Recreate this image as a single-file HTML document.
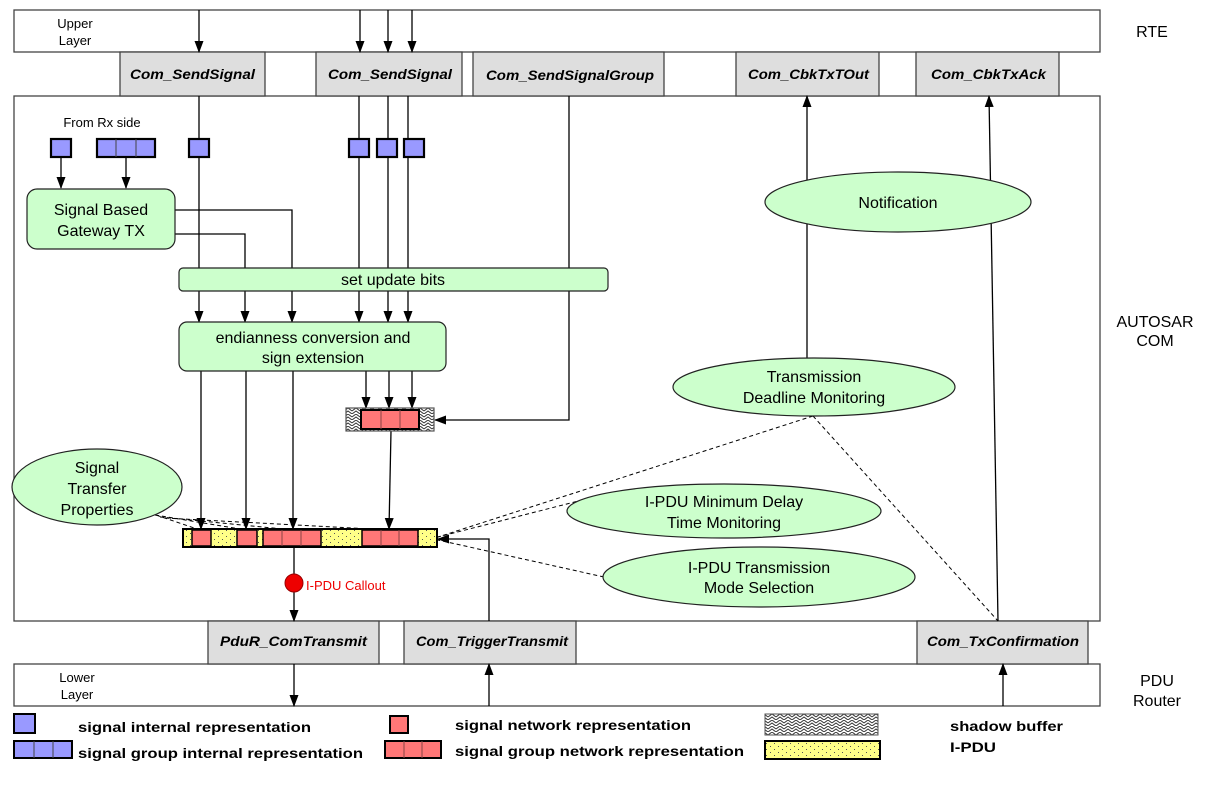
<!DOCTYPE html>
<html><head><meta charset="utf-8"><style>
html,body{margin:0;padding:0;background:#fff}
svg{display:block}
text{font-family:"Liberation Sans",Arial,sans-serif}
.api{font-weight:bold;font-style:italic;font-size:14px}
.el{font-size:16px}
.lg{font-weight:bold;font-size:14px}
</style></head><body>
<svg width="1215" height="787" viewBox="0 0 1215 787" xmlns="http://www.w3.org/2000/svg">
<defs>
<marker id="a" markerWidth="12" markerHeight="12" refX="11" refY="6" orient="auto" markerUnits="userSpaceOnUse"><path d="M0,1.5 L12,6 L0,10.5 z" fill="#000"/></marker>
<pattern id="dots" width="8" height="6" patternUnits="userSpaceOnUse"><rect width="8" height="6" fill="#ffff88"/><rect x="2" y="2" width="1" height="1" fill="#555"/><rect x="6" y="5" width="1" height="1" fill="#555"/></pattern>
<pattern id="zig" width="8" height="6" patternUnits="userSpaceOnUse"><rect width="8" height="6" fill="#fff"/><path d="M0,3 L4,0 L8,3" stroke="#333" fill="none" stroke-width="1"/><path d="M0,6 L4,3 L8,6" stroke="#333" fill="none" stroke-width="1"/></pattern>
</defs>
<g stroke="#444" stroke-width="1.3" fill="none">
<rect x="14" y="10" width="1086" height="42" fill="#fff"/>
<rect x="14" y="96" width="1086" height="525" fill="#fff"/>
<rect x="14" y="664" width="1086" height="42" fill="#fff"/>
</g>
<g fill="#dedede" stroke="#444" stroke-width="1.3">
<rect x="120" y="52" width="145" height="44"/>
<rect x="316" y="52" width="146" height="44"/>
<rect x="473" y="52" width="191" height="44"/>
<rect x="736" y="52" width="143" height="44"/>
<rect x="916" y="52" width="143" height="44"/>
<rect x="208" y="621" width="171" height="43"/>
<rect x="404" y="621" width="172" height="43"/>
<rect x="917" y="621" width="171" height="43"/>
</g>
<g class="api">
<text x="130" y="79" textLength="125" lengthAdjust="spacingAndGlyphs">Com_SendSignal</text>
<text x="328" y="79" textLength="124" lengthAdjust="spacingAndGlyphs">Com_SendSignal</text>
<text x="486" y="80" textLength="168" lengthAdjust="spacingAndGlyphs">Com_SendSignalGroup</text>
<text x="748" y="79" textLength="121" lengthAdjust="spacingAndGlyphs">Com_CbkTxTOut</text>
<text x="931" y="79" textLength="115" lengthAdjust="spacingAndGlyphs">Com_CbkTxAck</text>
<text x="220" y="646" textLength="147" lengthAdjust="spacingAndGlyphs">PduR_ComTransmit</text>
<text x="416" y="646" textLength="152" lengthAdjust="spacingAndGlyphs">Com_TriggerTransmit</text>
<text x="927" y="646" textLength="152" lengthAdjust="spacingAndGlyphs">Com_TxConfirmation</text>
</g>
<g font-size="13" text-anchor="middle">
<text x="75" y="28">Upper</text><text x="75" y="45">Layer</text>
<text x="77" y="682">Lower</text><text x="77" y="699">Layer</text>
<text x="102" y="127" font-size="13">From Rx side</text>
</g>
<g font-size="16" text-anchor="middle">
<text x="1152" y="37">RTE</text>
<text x="1155" y="327">AUTOSAR</text><text x="1155" y="346">COM</text>
<text x="1157" y="686">PDU</text><text x="1157" y="706">Router</text>
</g>
<g stroke="#000" stroke-width="1.3" fill="none">
<line x1="199" y1="10" x2="199" y2="52" marker-end="url(#a)"/>
<line x1="360" y1="10" x2="360" y2="52" marker-end="url(#a)"/>
<line x1="388" y1="10" x2="388" y2="52" marker-end="url(#a)"/>
<line x1="412" y1="10" x2="412" y2="52" marker-end="url(#a)"/>
<line x1="61" y1="157" x2="61" y2="188" marker-end="url(#a)"/>
<line x1="126" y1="157" x2="126" y2="188" marker-end="url(#a)"/>
<line x1="199" y1="96" x2="199" y2="322" marker-end="url(#a)"/>
<line x1="359" y1="96" x2="359" y2="322" marker-end="url(#a)"/>
<line x1="388" y1="96" x2="388" y2="322" marker-end="url(#a)"/>
<line x1="408" y1="96" x2="408" y2="322" marker-end="url(#a)"/>
<polyline points="175,210 292,210 292,322" marker-end="url(#a)"/>
<polyline points="175,234 245,234 245,322" marker-end="url(#a)"/>
<polyline points="569,96 569,420 435,420" marker-end="url(#a)"/>
<line x1="201" y1="371" x2="201" y2="529" marker-end="url(#a)"/>
<line x1="246" y1="371" x2="246" y2="529" marker-end="url(#a)"/>
<line x1="293" y1="371" x2="293" y2="529" marker-end="url(#a)"/>
<line x1="366" y1="371" x2="366" y2="408" marker-end="url(#a)"/>
<line x1="389" y1="371" x2="389" y2="408" marker-end="url(#a)"/>
<line x1="412" y1="371" x2="412" y2="408" marker-end="url(#a)"/>
<line x1="391" y1="431" x2="389" y2="529" marker-end="url(#a)"/>
<line x1="294" y1="547" x2="294" y2="621" marker-end="url(#a)"/>
<polyline points="489,621 489,539 438,539" marker-end="url(#a)"/>
<line x1="294" y1="664" x2="294" y2="706" marker-end="url(#a)"/>
<line x1="489" y1="706" x2="489" y2="664" marker-end="url(#a)"/>
<line x1="1003" y1="706" x2="1003" y2="664" marker-end="url(#a)"/>
<line x1="807" y1="360" x2="807" y2="96" marker-end="url(#a)"/>
<line x1="998" y1="621" x2="989" y2="96" marker-end="url(#a)"/>
</g>
<g stroke="#000" stroke-width="1" stroke-dasharray="4,3" fill="none">
<line x1="813" y1="416" x2="438" y2="537"/>
<line x1="813" y1="416" x2="998" y2="621"/>
<line x1="590" y1="498" x2="438" y2="537"/>
<line x1="604" y1="577" x2="438" y2="540"/>
<line x1="150" y1="513" x2="200" y2="530"/>
<line x1="155" y1="515" x2="246" y2="530"/>
<line x1="160" y1="517" x2="293" y2="530"/>
<line x1="165" y1="518" x2="390" y2="530"/>
</g>
<g fill="#ccffcc" stroke="#222" stroke-width="1.2">
<rect x="27" y="189" width="148" height="60" rx="10"/>
<rect x="179" y="268" width="429" height="23" rx="4"/>
<rect x="179" y="322" width="267" height="49" rx="8"/>
<ellipse cx="898" cy="202" rx="133" ry="30"/>
<ellipse cx="814" cy="387" rx="141" ry="29"/>
<ellipse cx="724" cy="511" rx="157" ry="27"/>
<ellipse cx="759" cy="577" rx="156" ry="30"/>
<ellipse cx="97" cy="487" rx="85" ry="38"/>
</g>
<g class="el" text-anchor="middle">
<text x="101" y="215">Signal Based</text><text x="101" y="236">Gateway TX</text>
<text x="393" y="285">set update bits</text>
<text x="313" y="343">endianness conversion and</text><text x="313" y="363">sign extension</text>
<text x="898" y="208">Notification</text>
<text x="814" y="382">Transmission</text><text x="814" y="403">Deadline Monitoring</text>
<text x="724" y="507">I-PDU Minimum Delay</text><text x="724" y="528">Time Monitoring</text>
<text x="759" y="573">I-PDU Transmission</text><text x="759" y="593">Mode Selection</text>
<text x="97" y="473">Signal</text><text x="97" y="494">Transfer</text><text x="97" y="515">Properties</text>
</g>
<g fill="#9999ff" stroke="#000" stroke-width="2.2">
<rect x="51" y="139" width="20" height="18"/>
<rect x="97" y="139" width="58" height="18"/>
<rect x="189" y="139" width="20" height="18"/>
<rect x="349" y="139" width="20" height="18"/>
<rect x="377" y="139" width="20" height="18"/>
<rect x="404" y="139" width="20" height="18"/>
</g>
<g stroke="#444"><line x1="116" y1="139" x2="116" y2="157"/><line x1="136" y1="139" x2="136" y2="157"/></g>
<rect x="346" y="408" width="88" height="23" fill="url(#zig)" stroke="#555" stroke-width="1.2"/>
<rect x="361" y="410" width="58" height="19" fill="#ff7777" stroke="#000" stroke-width="2"/>
<g stroke="#844"><line x1="381" y1="410" x2="381" y2="429"/><line x1="400" y1="410" x2="400" y2="429"/></g>
<rect x="183" y="529" width="254" height="18" fill="url(#dots)" stroke="#000" stroke-width="2"/>
<g fill="#ff7777" stroke="#000" stroke-width="1.5">
<rect x="192" y="530" width="19" height="16"/>
<rect x="237" y="530" width="20" height="16"/>
<rect x="263" y="530" width="58" height="16"/>
<rect x="362" y="530" width="56" height="16"/>
</g>
<g stroke="#844"><line x1="282" y1="530" x2="282" y2="546"/><line x1="301" y1="530" x2="301" y2="546"/><line x1="381" y1="530" x2="381" y2="546"/><line x1="399" y1="530" x2="399" y2="546"/></g>
<circle cx="294" cy="583" r="9" fill="#ee0000" stroke="#900"/>
<text x="306" y="590" font-size="13" fill="#ee0000">I-PDU Callout</text>
<rect x="14" y="714" width="21" height="19" fill="#9999ff" stroke="#000" stroke-width="2"/>
<rect x="14" y="741" width="58" height="17" fill="#9999ff" stroke="#000" stroke-width="2"/>
<g stroke="#444"><line x1="34" y1="741" x2="34" y2="758"/><line x1="53" y1="741" x2="53" y2="758"/></g>
<rect x="390" y="716" width="18" height="17" fill="#ff7777" stroke="#000" stroke-width="2"/>
<rect x="385" y="741" width="56" height="17" fill="#ff7777" stroke="#000" stroke-width="2"/>
<g stroke="#844"><line x1="404" y1="741" x2="404" y2="758"/><line x1="422" y1="741" x2="422" y2="758"/></g>
<rect x="765" y="714" width="113" height="21" fill="url(#zig)" stroke="#555"/>
<rect x="765" y="741" width="115" height="18" fill="url(#dots)" stroke="#000" stroke-width="2"/>
<g class="lg">
<text x="78" y="732" textLength="233" lengthAdjust="spacingAndGlyphs">signal internal representation</text>
<text x="78" y="758" textLength="285" lengthAdjust="spacingAndGlyphs">signal group internal representation</text>
<text x="455" y="730" textLength="236" lengthAdjust="spacingAndGlyphs">signal network representation</text>
<text x="455" y="756" textLength="289" lengthAdjust="spacingAndGlyphs">signal group network representation</text>
<text x="950" y="731" textLength="113" lengthAdjust="spacingAndGlyphs">shadow buffer</text>
<text x="950" y="752" textLength="46" lengthAdjust="spacingAndGlyphs">I-PDU</text>
</g>
</svg>
</body></html>
